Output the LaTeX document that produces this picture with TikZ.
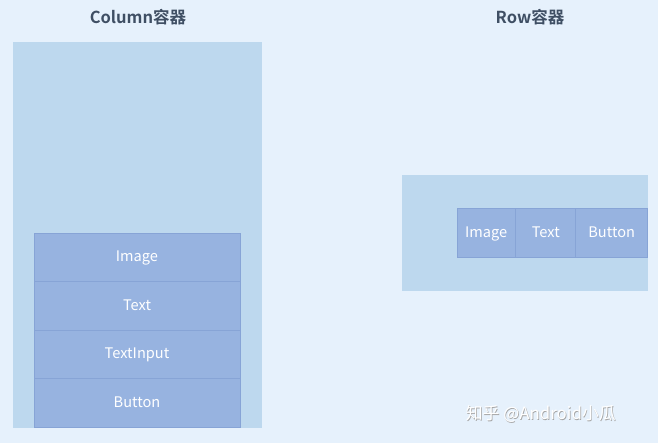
\documentclass[tikz,border=0pt]{standalone}
\usepackage{fontspec}
\newfontfamily\cjk{Noto Sans CJK SC}[BoldFont={Noto Sans CJK SC Bold}]
\usepackage{tikz}
\definecolor{pagebg}{HTML}{E6F1FC}
\definecolor{outerbg}{HTML}{BDD8EE}
\definecolor{cellbg}{HTML}{97B3E0}
\definecolor{cellline}{HTML}{87A4D6}
\definecolor{titlecol}{HTML}{3F4F64}
\tikzset{
container/.style={fill=outerbg, draw=none},
cell/.style={fill=cellbg, draw=cellline, line width=0.4pt, inner sep=0pt,
  text=white, text height=1.6ex, text depth=0.45ex, font=\cjk\fontsize{8.3}{10}\selectfont},
colcell/.style={cell, minimum width=4.12cm, minimum height=0.97cm},
title/.style={text=titlecol, font=\cjk\bfseries\fontsize{9.4}{11}\selectfont}}

\begin{document}
\begin{tikzpicture}[x=0.02cm, y=-0.02cm]

                \fill[pagebg] (0,0) rectangle (658,443);
                \useasboundingbox (0,0) rectangle (658,443);

                \node[title] (T1) at (138,17) {Column容器};
                \node[title] (T2) at (530,17) {Row容器};

                \node[container, minimum width=4.98cm, minimum height=7.72cm, inner sep=0pt] (C) at (137.5,235) {};
                \node[container, minimum width=4.92cm, minimum height=2.32cm, inner sep=0pt] (R) at (525,233) {};

                \node[colcell] (C1) at (137,257.25) {Image};
                \node[colcell] (C2) at (137,305.75) {Text};
                \node[colcell] (C3) at (137,354.25) {TextInput};
                \node[colcell] (C4) at (137,402.75) {Button};

                \node[cell, minimum width=1.17cm, minimum height=0.97cm] (R1) at (486.2,233) {Image};
                \node[cell, minimum width=1.21cm, minimum height=0.97cm] (R2) at (545.8,233) {Text};
                \node[cell, minimum width=1.44cm, minimum height=0.97cm] (R3) at (611.7,233) {Button};

                \node[text=gray!70, font=\cjk\fontsize{9.6}{11}\selectfont] (W0) at (555.5-14,415) {知乎 @Android小瓜};
                \node[text=white, font=\cjk\fontsize{9.6}{11}\selectfont] (W) at (554.8-14,414.3) {知乎 @Android小瓜};

            \end{tikzpicture}
\end{document}
